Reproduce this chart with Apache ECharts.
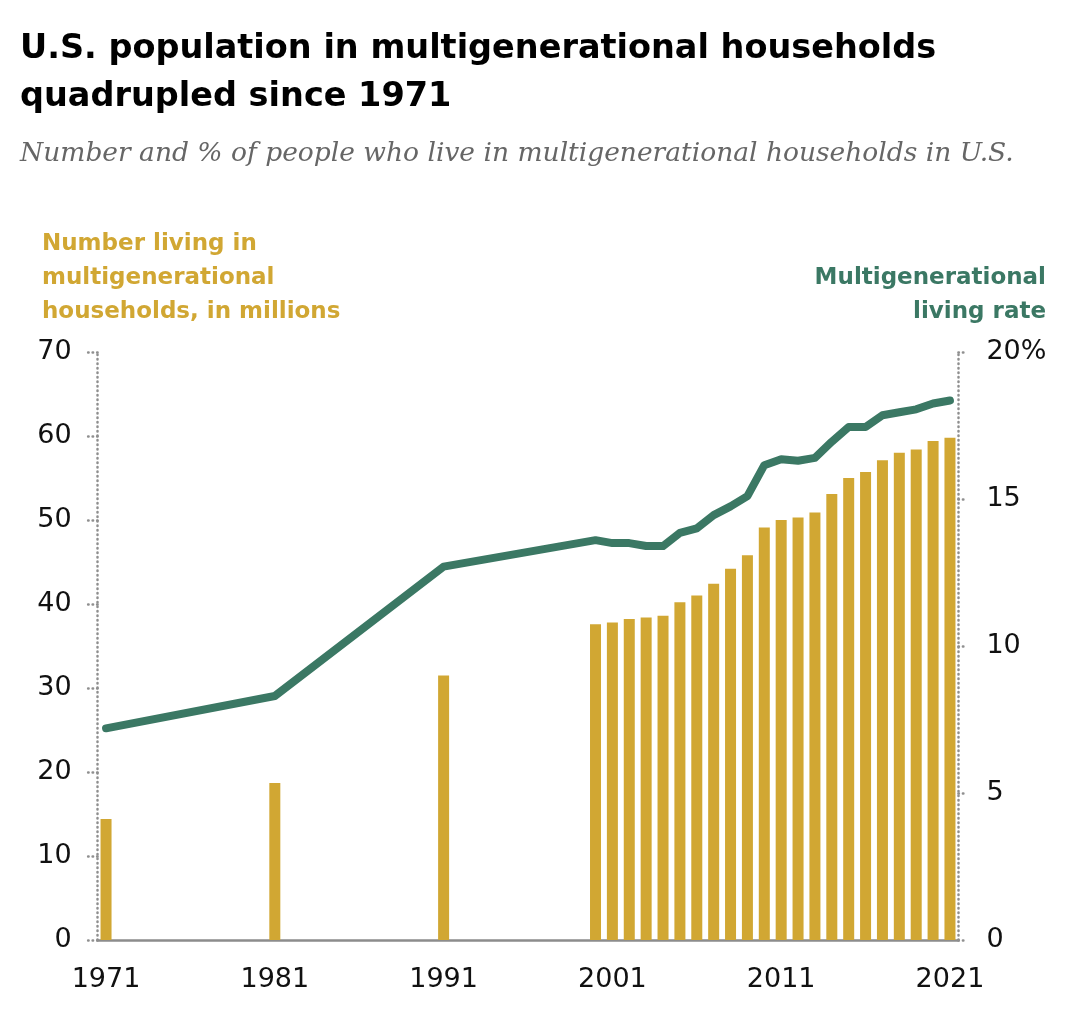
<!DOCTYPE html>
<html>
<head>
<meta charset="utf-8">
<script src="https://cdn.jsdelivr.net/npm/echarts@6/dist/echarts.min.js"></script>
<style>
  html, body { margin: 0; padding: 0; background: #fff; }
  #chart { width: 1078px; height: 1010px; }
</style>
</head>
<body>
<div id="chart"></div>
<script>
// years with data (1971, 1981, 1991, then every year 2000-2021)
var dataYears = [1971, 1981, 1991, 2000, 2001, 2002, 2003, 2004, 2005, 2006, 2007, 2008, 2009,
  2010, 2011, 2012, 2013, 2014, 2015, 2016, 2017, 2018, 2019, 2020, 2021]
// number living in multigenerational households, millions
var numberMillions = [14.4, 18.7, 31.5, 37.6, 37.8, 38.2, 38.4, 38.6, 40.2, 41.0, 42.4, 44.2, 45.8,
  49.1, 50.0, 50.3, 50.9, 53.1, 55.0, 55.7, 57.1, 58.0, 58.4, 59.4, 59.8]
// multigenerational living rate, %
var ratePct = [7.2, 8.3, 12.7, 13.6, 13.5, 13.5, 13.4, 13.4, 13.85, 14.0, 14.45, 14.75, 15.1,
  16.15, 16.35, 16.3, 16.4, 16.95, 17.45, 17.45, 17.85, 17.95, 18.05, 18.25, 18.35]
var xLabelYears = [1971, 1981, 1991, 2001, 2011, 2021]

var gold = '#d1a733'
var green = '#3b7864'

var allYears = []
for (var y = 1971; y <= 2021; y++) allYears.push(String(y))

var barData = allYears.map(function (yr) {
  var i = dataYears.indexOf(+yr)
  return i < 0 ? null : numberMillions[i]
})
var lineData = allYears.map(function (yr) {
  var i = dataYears.indexOf(+yr)
  return i < 0 ? null : ratePct[i]
})

var chart = echarts.init(document.getElementById('chart'))
var tickFont = { color: '#111', fontSize: 27, fontFamily: 'DejaVu Sans' }
var dotted = { color: '#8f8f8f', width: 2.5, type: [0.5, 4], cap: 'round' }

// y here is the top of the text box
function label(text, x, y, font, fill, align) {
  return {
    type: 'text', x: x, y: y,
    style: { text: text, font: font, fill: fill, textAlign: align || 'left', textVerticalAlign: 'top' }
  }
}

var option = {
  animation: false,
  graphic: [
    label('U.S. population in multigenerational households', 20, 32, 'bold 33.5px "DejaVu Sans"', '#000'),
    label('quadrupled since 1971', 20, 80, 'bold 33.5px "DejaVu Sans"', '#000'),
    label('Number and % of people who live in multigenerational households in U.S.', 20, 141,
      'italic 26.5px "DejaVu Serif"', '#666'),
    label('Number living in', 42, 233, 'bold 23px "DejaVu Sans"', gold),
    label('multigenerational', 42, 267, 'bold 23px "DejaVu Sans"', gold),
    label('households, in millions', 42, 301, 'bold 23px "DejaVu Sans"', gold),
    label('Multigenerational', 1046, 267, 'bold 23px "DejaVu Sans"', green, 'right'),
    label('living rate', 1046, 301, 'bold 23px "DejaVu Sans"', green, 'right')
  ],
  grid: { left: 97.6, right: 119.6, top: 352, bottom: 70 },
  xAxis: {
    type: 'category',
    data: allYears,
    boundaryGap: true,
    axisLine: { lineStyle: { color: '#8c8c8c', width: 2.5 } },
    axisTick: { show: false },
    axisLabel: Object.assign({
      margin: 26,
      interval: function (i, v) { return xLabelYears.indexOf(+v) >= 0 }
    }, tickFont)
  },
  yAxis: [
    {
      type: 'value', min: 0, max: 70, interval: 10,
      splitLine: { show: false },
      axisLine: { show: true, lineStyle: dotted },
      axisTick: { show: true, length: 10, lineStyle: dotted },
      axisLabel: Object.assign({ margin: 26 }, tickFont)
    },
    {
      type: 'value', min: 0, max: 20, interval: 5,
      splitLine: { show: false },
      axisLine: { show: true, lineStyle: dotted },
      axisTick: { show: true, length: 8, lineStyle: dotted },
      axisLabel: Object.assign({
        margin: 28,
        formatter: function (v) { return v === 20 ? '20%' : String(v) }
      }, tickFont)
    }
  ],
  series: [
    {
      type: 'bar',
      data: barData,
      yAxisIndex: 0,
      barWidth: 11,
      itemStyle: { color: gold },
      z: 2
    },
    {
      type: 'line',
      data: lineData,
      yAxisIndex: 1,
      connectNulls: true,
      symbol: 'none',
      lineStyle: { color: green, width: 8, cap: 'round', join: 'round' },
      z: 3
    }
  ]
}
chart.setOption(option)
</script>
</body>
</html>
